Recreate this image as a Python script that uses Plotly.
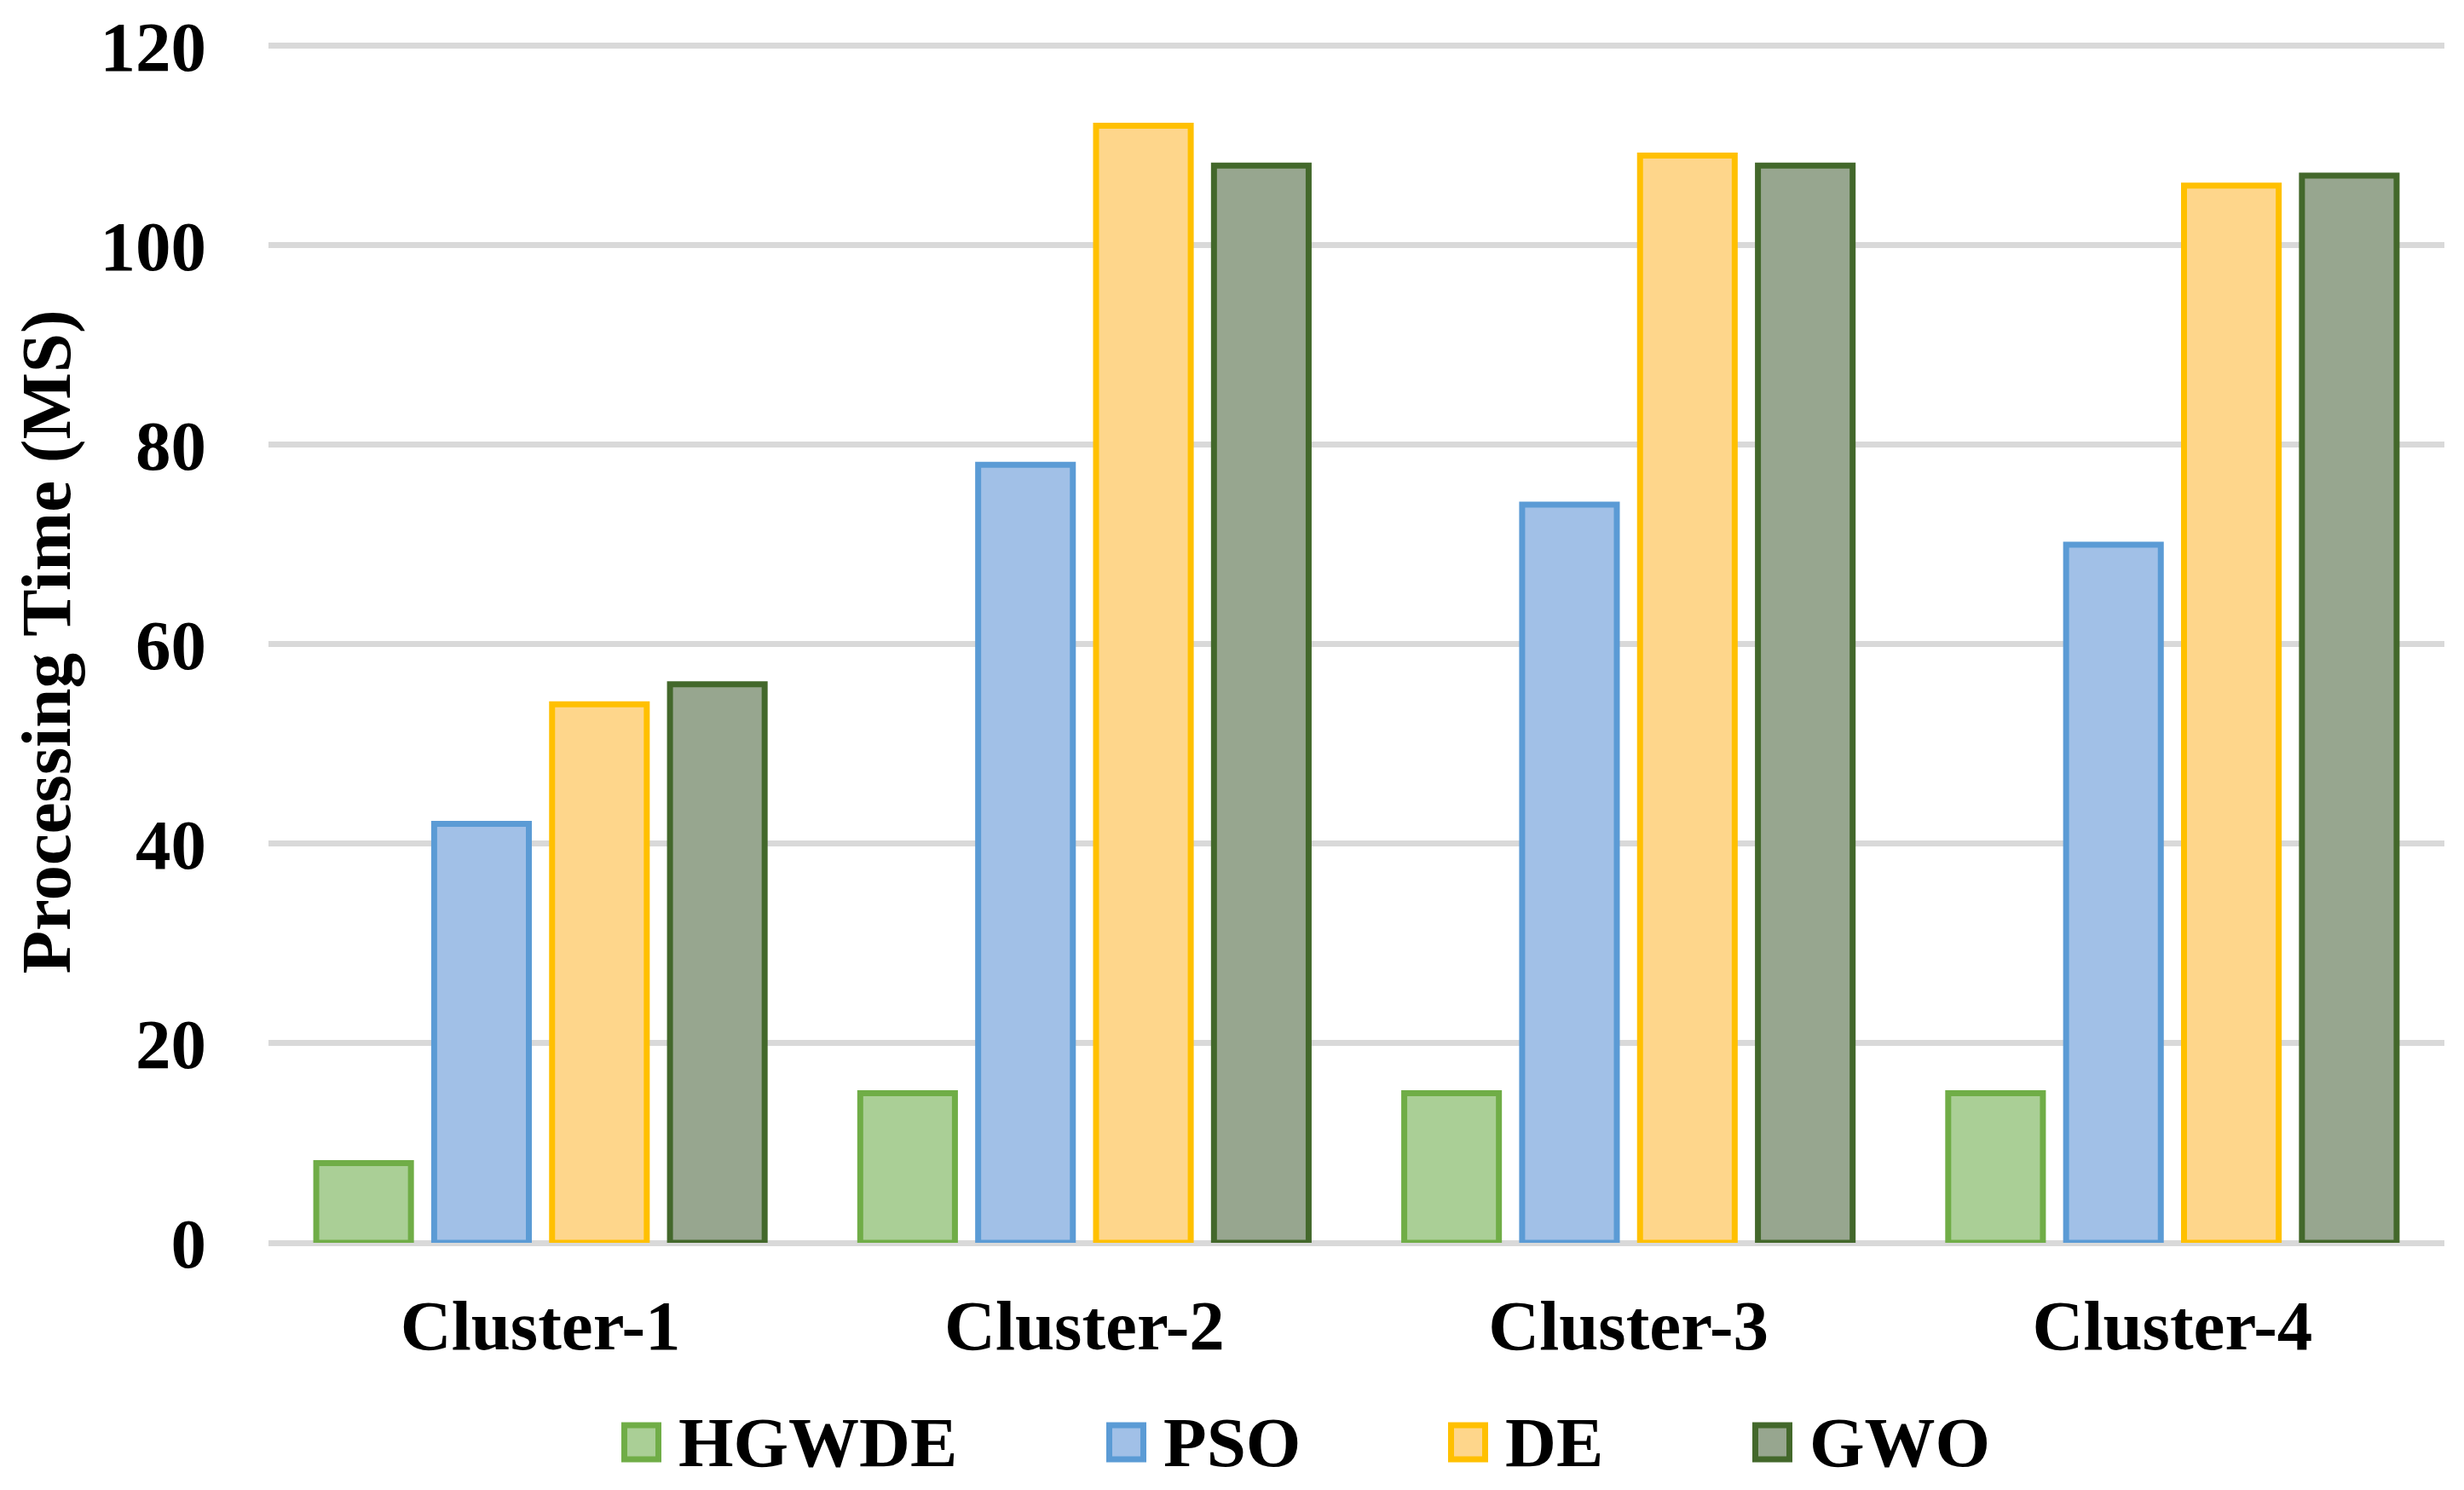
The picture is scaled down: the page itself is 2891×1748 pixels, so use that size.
import plotly.graph_objects as go

# data
clusters = ["Cluster-1", "Cluster-2", "Cluster-3", "Cluster-4"]
hgwde = [8, 15, 15, 15]
pso = [42, 78, 74, 70]
de = [54, 112, 109, 106]
gwo = [56, 108, 108, 107]

series_names = ["HGWDE", "PSO", "DE", "GWO"]
series_values = [hgwde, pso, de, gwo]

# styles
fill_colors = ["#aacf96", "#a1c0e7", "#fed68b", "#97a68f"]
line_colors = ["#70ad47", "#5b9bd5", "#ffc000", "#43682b"]
FONT = "Liberation Serif, Times New Roman, serif"
FONT_SIZE = 83

# the page body has an 8px margin, so the figure is 8px smaller and shifted
OFF = 8
W, H = 2891 - OFF, 1748 - OFF
ML, MR, MT, MB = 315 - OFF, 23, 48 - OFF, 290

fig = go.Figure()
for name, vals, fc, lc in zip(series_names, series_values, fill_colors, line_colors):
    fig.add_trace(
        go.Bar(
            name=name,
            x=clusters,
            y=vals,
            marker=dict(color=fc, line=dict(color=lc, width=7)),
            showlegend=False,
        )
    )

# hand-built legend (the plotly legend symbol for bars is too small)
legend_x = [729, 1298, 1699, 2056]  # left edge of each symbol, page px
legend_y = 1692  # row centre, page px
sym = 47
pw, ph = W - ML - MR, H - MT - MB


def px_to_paper(x, y):
    # page pixels -> paper coords
    return (x - OFF - ML) / pw, (H - MB - (y - OFF)) / ph


for name, fc, lc, lx in zip(series_names, fill_colors, line_colors, legend_x):
    x0, y0 = px_to_paper(lx + 3.5, legend_y + sym / 2 - 3.5)
    x1, y1 = px_to_paper(lx + sym - 3.5, legend_y - sym / 2 + 3.5)
    fig.add_shape(
        type="rect", xref="paper", yref="paper",
        x0=x0, y0=y0, x1=x1, y1=y1,
        fillcolor=fc, line=dict(color=lc, width=7),
    )
    tx, ty = px_to_paper(lx + sym + 18, legend_y)
    fig.add_annotation(
        text="<b>%s</b>" % name, xref="paper", yref="paper",
        x=tx, y=ty, xanchor="left", yanchor="middle", showarrow=False,
        font=dict(family=FONT, size=FONT_SIZE, color="black"),
    )

fig.update_layout(
    width=W,
    height=H,
    margin=dict(l=ML, r=MR, t=MT, b=MB),
    barmode="group",
    bargap=0.133,
    bargroupgap=0.197,
    plot_bgcolor="white",
    paper_bgcolor="white",
    font=dict(family=FONT, size=FONT_SIZE, color="black"),
    showlegend=False,
)
fig.update_xaxes(
    automargin=False,
    showgrid=False,
    showline=False,
    tickfont=dict(family=FONT, size=FONT_SIZE, color="black", weight="bold"),
    ticklabelstandoff=41,
)
fig.update_yaxes(
    automargin=False,
    range=[0, 120.5],
    tickvals=[0, 20, 40, 60, 80, 100, 120],
    showgrid=True,
    gridcolor="#d9d9d9",
    gridwidth=7,
    zeroline=True,
    zerolinecolor="#d9d9d9",
    zerolinewidth=7,
    showline=False,
    tickfont=dict(family=FONT, size=FONT_SIZE, color="black", weight="bold"),
    ticklabelstandoff=72,
    title=dict(
        text="Processing Time (MS)",
        font=dict(family=FONT, size=FONT_SIZE, color="black", weight="bold"),
        standoff=20,
    ),
)

fig.write_html("out.html")
